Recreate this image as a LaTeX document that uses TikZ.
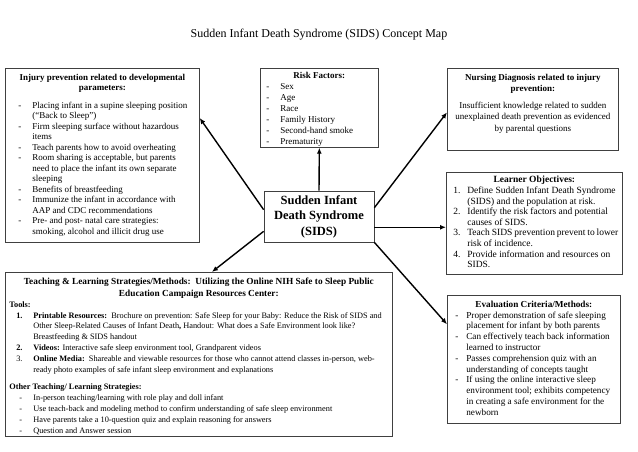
\documentclass[tikz,border=0pt]{standalone}
\usepackage{fontspec}
\setmainfont{Liberation Serif}
\usetikzlibrary{arrows.meta}
\newcommand{\fs}[2]{\fontsize{#1}{#2}\selectfont}
% one row of a list: label offset, text offset, label
\newcommand{\listrow}[3]{\par\hangindent=#2\hangafter=1\noindent\makebox[#2][l]{\hspace{#1}#3}}
\newcommand{\boxhead}[1]{{\centering\bfseries #1\par}}
\tikzset{
        % concept boxes
        conceptbox/.style={draw=black!75, line width=0.7pt, anchor=north west, inner xsep=4pt, inner ysep=4pt},
        % central topic
        topicbox/.style={draw=black!75, line width=0.7pt, align=center, minimum width=110pt, minimum height=51pt, inner sep=0pt, font=\fontsize{12.5}{15.5}\selectfont\bfseries},
        % connectors
        link/.style={line width=1.4pt, -{Latex[length=6pt,width=5pt]}}
}
\begin{document}
\begin{tikzpicture}[x=1pt, y=-1pt]
    \useasboundingbox (0,0) rectangle (638,451);
    \node[font=\fs{12}{14}] (title) at (319,35) {Sudden Infant Death Syndrome (SIDS) Concept Map};

    \node[topicbox] (sids) at (319,216.5) {Sudden Infant\\Death Syndrome\\(SIDS)};

    % Injury prevention
    \node[conceptbox] (inj) at (5,68) {\parbox[t][166pt][t]{186pt}{\fs{9}{10.5}%
        \vspace*{1.5pt}
        \boxhead{Injury prevention related to developmental\\parameters:}
        \vspace{7pt}
        \listrow{9pt}{23pt}{-}Placing infant in a supine sleeping position\\(“Back to Sleep”)
        \listrow{9pt}{23pt}{-}Firm sleeping surface without hazardous\\items
        \listrow{9pt}{23pt}{-}Teach parents how to avoid overheating
        \listrow{9pt}{23pt}{-}Room sharing is acceptable, but parents\\need to place the infant its own separate\\sleeping
        \listrow{9pt}{23pt}{-}Benefits of breastfeeding
        \listrow{9pt}{23pt}{-}Immunize the infant in accordance with\\AAP and CDC recommendations
        \listrow{9pt}{23pt}{-}Pre- and post- natal care strategies:\\smoking, alcohol and illicit drug use\par}};

    % Risk factors
    \node[conceptbox] (risk) at (260,68) {\parbox[t][71pt][t]{110pt}{\fs{9}{11}%
        \boxhead{Risk Factors:}
        \listrow{2pt}{16pt}{-}Sex
        \listrow{2pt}{16pt}{-}Age
        \listrow{2pt}{16pt}{-}Race
        \listrow{2pt}{16pt}{-}Family History
        \listrow{2pt}{16pt}{-}Second-hand smoke
        \listrow{2pt}{16pt}{-}Prematurity\par}};

    % Nursing diagnosis
    \node[conceptbox] (nurse) at (447,68) {\parbox[t][74pt][t]{163pt}{\fs{9}{11.6}%
        \vspace*{1.5pt}
        \boxhead{Nursing Diagnosis related to injury\\prevention:}
        \vspace{5pt}
        {\centering Insufficient knowledge related to sudden\\unexplained death prevention as evidenced\\by parental questions\par}}};

    % Learner objectives
    \node[conceptbox] (learn) at (446,172) {\parbox[t][94pt][t]{168pt}{\fs{9.5}{10.6}%
        \boxhead{Learner Objectives:}
        \listrow{3pt}{17pt}{1.}Define Sudden Infant Death Syndrome\\(SIDS) and the population at risk.
        \listrow{3pt}{17pt}{2.}Identify the risk factors and potential\\causes of SIDS.
        \listrow{3pt}{17pt}{3.}Teach SIDS prevention prevent to lower\\risk of incidence.
        \listrow{3pt}{17pt}{4.}Provide information and resources on\\SIDS.\par}};

    % Teaching and learning
    \node[conceptbox] (teach) at (5,272) {\parbox[t][156pt][t]{379pt}{\fs{8.3}{10.8}%
        \vspace*{2pt}
        {\fs{9.3}{11.5}\boxhead{Teaching \& Learning Strategies/Methods:\ \ Utilizing the Online NIH Safe to Sleep Public\\Education Campaign Resources Center:}}
        \textbf{Tools:}
        \listrow{7pt}{24pt}{\textbf{1.}}\textbf{Printable Resources:}\ \ Brochure on prevention: Safe Sleep for your Baby: Reduce the Risk of SIDS and\\Other Sleep-Related Causes of Infant Death\textbf{,} Handout: What does a Safe Environment look like?\\Breastfeeding \& SIDS handout
        \listrow{7pt}{24pt}{\textbf{2.}}\textbf{Videos:} Interactive safe sleep environment tool, Grandparent videos
        \listrow{7pt}{24pt}{3.}\textbf{Online Media:}\ \ Shareable and viewable resources for those who cannot attend classes in-person, web-\\ready photo examples of safe infant sleep environment and explanations
        \par\vspace{7pt}
        \textbf{Other Teaching/ Learning Strategies:}
        \listrow{10pt}{24pt}{-}In-person teaching/learning with role play and doll infant
        \listrow{10pt}{24pt}{-}Use teach-back and modeling method to confirm understanding of safe sleep environment
        \listrow{10pt}{24pt}{-}Have parents take a 10-question quiz and explain reasoning for answers
        \listrow{10pt}{24pt}{-}Question and Answer session\par}};

    % Evaluation
    \node[conceptbox] (eval) at (447,295) {\parbox[t][120pt][t]{165pt}{\fs{9.2}{10.8}%
        \vspace*{1.5pt}
        \boxhead{Evaluation Criteria/Methods:}
        \listrow{4pt}{15pt}{-}Proper demonstration of safe sleeping\\placement for infant by both parents
        \listrow{4pt}{15pt}{-}Can effectively teach back information\\learned to instructor
        \listrow{4pt}{15pt}{-}Passes comprehension quiz with an\\understanding of concepts taught
        \listrow{4pt}{15pt}{-}If using the online interactive sleep\\environment tool; exhibits competency\\in creating a safe environment for the\\newborn\par}};

    % connectors
    \draw[link] (sids.173) -- (inj.21);
    \draw[link] (sids.north) -- (risk.south);
    \draw[link] (sids.9) -- (nurse.182);
    \draw[link] (sids.349) -- (sids.349 -| learn.west);
    \draw[link] (sids.south east) -- (eval.158);
    \draw[link] (sids.195) -- (teach.81);
\end{tikzpicture}
\end{document}
